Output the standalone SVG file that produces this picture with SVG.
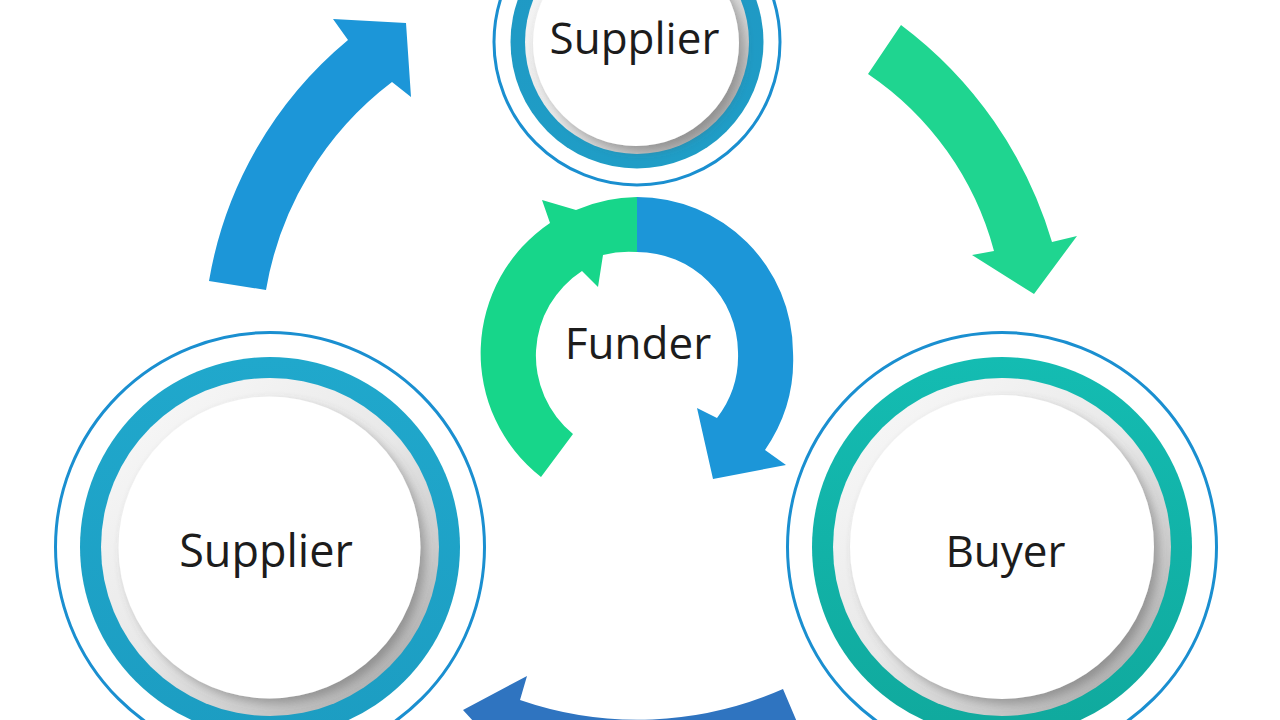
<svg xmlns="http://www.w3.org/2000/svg" width="1280" height="720" viewBox="0 0 1280 720">
<style>
.halo{fill:none;stroke:#1a8fd0;stroke-width:3}
.band{fill:url(#bandGrad)}
.face{fill:#fff;filter:url(#faceShadow)}
.label{font-family:"Open Sans","Noto Sans","Liberation Sans",sans-serif;font-size:45px;fill:#1c1c1c;text-anchor:middle}
.label-small{font-size:44px}
</style>
<defs>
<linearGradient id="bandGrad" x1="0.15" y1="0.1" x2="0.85" y2="0.9">
<stop offset="0" stop-color="#f6f6f6"/><stop offset="0.5" stop-color="#e8e8e8"/><stop offset="0.8" stop-color="#cccccc"/><stop offset="1" stop-color="#b0b0b0"/>
</linearGradient>
<linearGradient id="blueRing" x1="0" y1="0" x2="0" y2="1"><stop offset="0" stop-color="#20a8cc"/><stop offset="1" stop-color="#1c9dc2"/></linearGradient>
<linearGradient id="topRing" x1="0" y1="0" x2="0" y2="1"><stop offset="0" stop-color="#1f98c4"/><stop offset="1" stop-color="#1f9dc6"/></linearGradient>
<linearGradient id="tealRing" x1="0" y1="0" x2="0" y2="1"><stop offset="0" stop-color="#14bcb2"/><stop offset="1" stop-color="#10a99d"/></linearGradient>
<filter id="faceShadow" x="-15%" y="-15%" width="130%" height="130%"><feDropShadow dx="5" dy="5" stdDeviation="5" flood-color="#555" flood-opacity="0.42"/></filter>
</defs>
<rect width="1280" height="720" fill="#fff"/>
<g id="connectors">
<path id="arrow-left" fill="#1c96d8" d="M209,281 A400,400 0 0 1 348,40 L333,19 L406,23 L411,97 L392,82 A330,330 0 0 0 266,290 Z"/>
<path id="arrow-right" fill="#1fd590" d="M901,25 A420,420 0 0 1 1052,242 L1077,236 L1034,294 L972,255 L994,251 A310,310 0 0 0 868,74 Z"/>
<path id="arrow-bottom" fill="#2f74c0" d="M463,710 L527,676 L520,700 A360,360 0 0 0 783,689 L797,722 L474,722 Z"/>
<path id="funder-blue" fill="#1c96d8" d="M637,197 A156,156 0 0 1 793,352 A158,158 0 0 1 765,450 L786,465 L713,479 L697,408 L717,418 A102,102 0 0 0 738,352 A101,101 0 0 0 637,252 Z"/>
<path id="funder-green" fill="#17d68a" d="M541,477 A157,157 0 0 1 550,223 L542,200 L576,210 A156,156 0 0 1 637,197 L637,252 A100,100 0 0 0 603,255 L598,287 L582,271 A101,101 0 0 0 573,434 Z"/>
</g>
<g id="node-supplier-top">
<circle class="halo" cx="637" cy="42" r="143"/>
<circle cx="637" cy="42" r="126.5" fill="url(#topRing)"/>
<circle class="band" cx="637" cy="42" r="112"/>
<circle class="face" cx="636" cy="43" r="103"/>
<text class="label label-small" x="634.5" y="54">Supplier</text>
</g>
<g id="node-funder"><text class="label label-small" x="638" y="359">Funder</text></g>
<g id="node-supplier-left">
<circle class="halo" cx="270" cy="547" r="214.5"/>
<circle cx="270" cy="547" r="190" fill="url(#blueRing)"/>
<circle class="band" cx="270" cy="547" r="169"/>
<circle class="face" cx="269.5" cy="547.5" r="151"/>
<text class="label" x="266" y="567">Supplier</text>
</g>
<g id="node-buyer">
<circle class="halo" cx="1002" cy="547" r="214.5"/>
<circle cx="1002" cy="547" r="190" fill="url(#tealRing)"/>
<circle class="band" cx="1002" cy="547" r="169"/>
<circle class="face" cx="1002" cy="547" r="152"/>
<text class="label label-small" x="1005.5" y="567">Buyer</text>
</g>
</svg>
